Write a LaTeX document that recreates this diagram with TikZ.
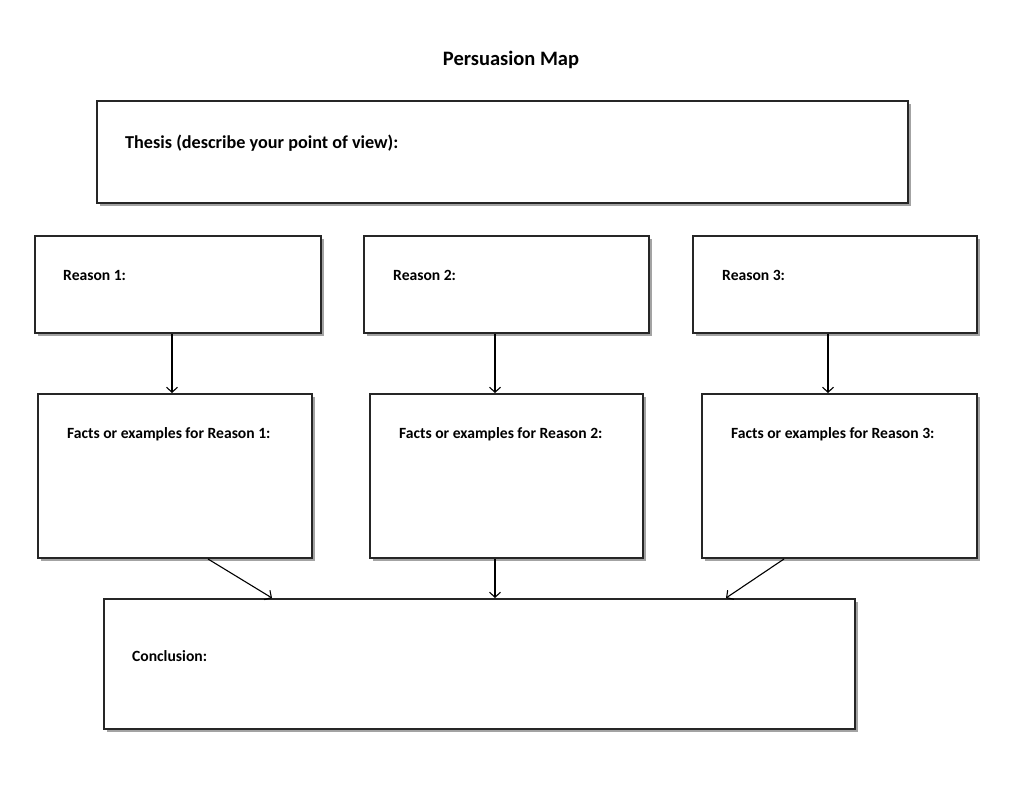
\documentclass[tikz,border=0pt]{standalone}
\usepackage{fontspec}
\setmainfont{Carlito}
\usetikzlibrary{calc,shadows,arrows.meta}
\begin{document}
\begin{tikzpicture}[x=1pt,y=-1pt,
  box/.style={draw=black!85,line width=2pt,fill=white,inner sep=0pt,
    drop shadow={shadow xshift=3pt,shadow yshift=-3pt,fill=black!45,opacity=0.8}},
  lbl/.style={anchor=west,inner sep=0pt,font=\bfseries\fontsize{15.6}{18}\selectfont},
  arr/.style={line width=1.1pt,-{Straight Barb[length=5pt,width=11pt]}}]
\useasboundingbox[fill=white] (0,0) rectangle (1023,791);
\node[anchor=center,font=\bfseries\fontsize{20.5}{24}\selectfont] (title) at (511,60) {Persuasion Map};
\node[box,minimum width=811pt,minimum height=102pt] (thesis) at (502.5,152) {};
\node[box,minimum width=286pt,minimum height=97pt] (r1) at (178,284.5) {};
\node[box,minimum width=285pt,minimum height=97pt] (r2) at (506.5,284.5) {};
\node[box,minimum width=284pt,minimum height=97pt] (r3) at (835,284.5) {};
\node[box,minimum width=274pt,minimum height=164pt] (f1) at (175,476) {};
\node[box,minimum width=273pt,minimum height=164pt] (f2) at (506.5,476) {};
\node[box,minimum width=275pt,minimum height=164pt] (f3) at (839.5,476) {};
\node[box,minimum width=751pt,minimum height=130pt] (concl) at (479.5,664) {};
\node[lbl,font=\bfseries\fontsize{18.2}{21}\selectfont] (tt) at (125,143) {Thesis (describe your point of view):};
\node[lbl] (t1) at (63,275) {Reason 1:};
\node[lbl] (t2) at (393,275) {Reason 2:};
\node[lbl] (t3) at (722,275) {Reason 3:};
\node[lbl] (u1) at (67,434) {Facts or examples for Reason 1:};
\node[lbl] (u2) at (399,434) {Facts or examples for Reason 2:};
\node[lbl] (u3) at (731,434) {Facts or examples for Reason 3:};
\node[lbl] (tc) at (132,656) {Conclusion:};
\draw[arr] ($(r1.south)+(-6,0)$) -- ($(f1.north)+(-3,0)$);
\draw[arr] ($(r2.south)+(-11.5,0)$) -- ($(f2.north)+(-11.5,0)$);
\draw[arr] ($(r3.south)+(-7,0)$) -- ($(f3.north)+(-11.5,0)$);
\draw[arr] ($(f1.south)+(33,0)$) -- ($(concl.north)+(-207.5,0)$);
\draw[arr] ($(f2.south)+(-11.5,0)$) -- ($(concl.north)+(15.5,0)$);
\draw[arr] ($(f3.south)+(-55.5,0)$) -- ($(concl.north)+(246.5,0)$);
\end{tikzpicture}
\end{document}
